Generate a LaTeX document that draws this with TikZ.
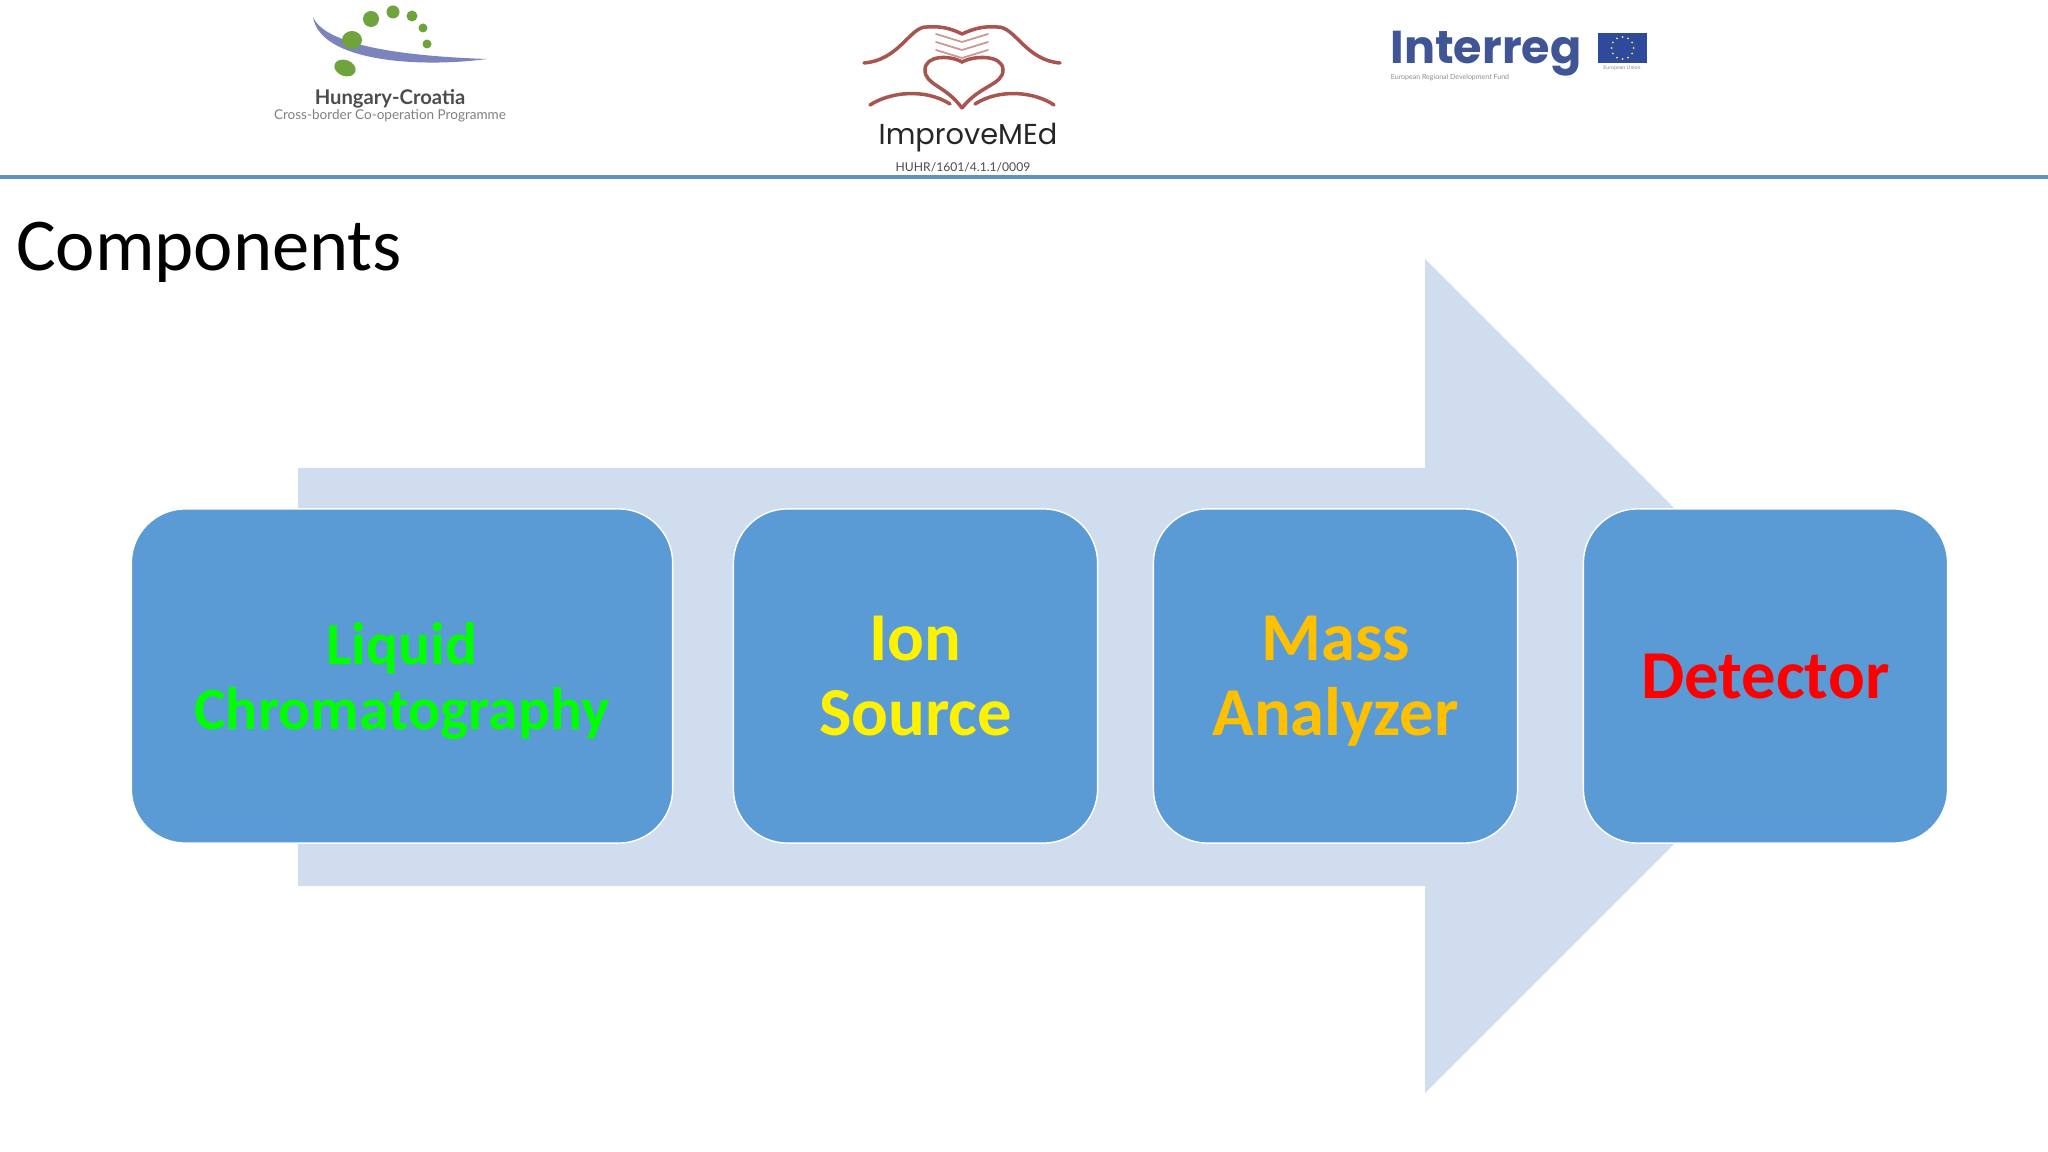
\documentclass[tikz,border=0pt]{standalone}
\usepackage{fontspec}
\setmainfont{Carlito}
\newfontfamily\logofont{Lato}
\newfontfamily\logoroundfont{Poppins}
\usepackage{tikz}
\definecolor{boxblue}{HTML}{5B9BD5}
\definecolor{arrowblue}{HTML}{D0DDEE}
\definecolor{headerline}{HTML}{5F92BF}
\definecolor{logogreen}{HTML}{6FA33C}
\definecolor{logoviolet}{HTML}{7C84BE}
\definecolor{logored}{HTML}{A8554F}
\definecolor{logonavy}{HTML}{3F5596}
\definecolor{flagblue}{HTML}{2F4A9C}
\definecolor{compamber}{HTML}{FFC000}
\tikzstyle{compbox}=[rectangle,draw=white,line width=0.4pt,fill=boxblue,rounded corners=0.54cm,minimum height=3.34cm,align=center,inner sep=0pt,text depth=0pt]
\tikzstyle{smalltext}=[font=\bfseries\fontsize{17}{18.6}\selectfont]
\tikzstyle{bigtext}=[font=\bfseries\fontsize{19.5}{21.2}\selectfont]
\tikzstyle{logotext}=[inner sep=0pt,text=black!70]
\tikzstyle{hand}=[draw=logored,line width=1pt,line cap=round]
\tikzstyle{dot}=[fill=logogreen]
\begin{document}
\begin{tikzpicture}[x=0.01cm,y=-0.01cm]
        \useasboundingbox (0,0) rectangle (2048,1152);
        \fill[arrowblue] (298,468) -- (1425,468) -- (1425,259) -- (1842,676) -- (1425,1093) -- (1425,886) -- (298,886) -- cycle;
        \draw[headerline,line width=1pt] (0,177) -- (2048,177);
        \node[inner sep=0pt,font=\fontsize{21.2}{24}\selectfont] (title) at (209,252) {Components};
        \node[compbox,smalltext,minimum width=5.41cm,text=green] (lc) at (402,676) {Liquid\\Chromatography};
        \node[compbox,bigtext,minimum width=3.64cm,text=yellow] (ion) at (915.5,676) {Ion\\Source};
        \node[compbox,bigtext,minimum width=3.64cm,text=compamber] (mass) at (1335.5,676) {Mass\\Analyzer};
        \node[compbox,bigtext,minimum width=3.64cm,text=red] (det) at (1765.5,676) {Detector};
        \fill[logoviolet] (313,17) .. controls (325,45) and (400,56) .. (487,59) .. controls (420,68) and (320,62) .. (313,17) -- cycle;
        \fill[dot,rotate around={-20:(345,68)}] (345,68) ellipse (11 and 8);
        \fill[dot] (352,40) ellipse (10 and 9);
        \fill[dot] (371,19) circle (8);
        \fill[dot] (393,12) circle (6.5);
        \fill[dot] (412,16) circle (5.5);
        \fill[dot] (423,28) circle (4.5);
        \fill[dot] (427,44) circle (4.5);
        \node[logotext,font=\logofont\bfseries\fontsize{5.75}{7}\selectfont] (hucro) at (390,99) {Hungary-Croatia};
        \node[logotext,text=black!50,font=\logofont\fontsize{3.85}{5}\selectfont] (cbc) at (390,116) {Cross-border Co-operation Programme};
        \draw[hand] (864,63) .. controls (900,60) and (910,26) .. (927,27) .. controls (940,26) and (950,28) .. (962,34);
        \draw[hand] (1060,63) .. controls (1025,60) and (1015,26) .. (997,27) .. controls (985,26) and (975,28) .. (962,34);
        \draw[hand] (962,108) .. controls (945,85) and (925,85) .. (925,70) .. controls (925,55) and (950,55) .. (962,62) .. controls (975,55) and (1003,55) .. (1003,70) .. controls (1003,85) and (980,85) .. (962,108);
        \draw[hand] (870,105) .. controls (890,92) and (925,88) .. (950,104);
        \draw[hand] (1054,105) .. controls (1035,92) and (1000,88) .. (975,104);
        \foreach \yy in {34,42,50} {
            \draw[hand,line width=0.5pt,draw=logored!60] (936,\yy) -- (962,\yy+8) -- (988,\yy);
        }
        \node[logotext,text=black!85,font=\logoroundfont\fontsize{8.2}{10}\selectfont] (improve) at (968,138) {ImproveMEd};
        \node[logotext,font=\logofont\fontsize{3.45}{5}\selectfont] (huhr) at (963,167) {HUHR/1601/4.1.1/0009};
        \node[inner sep=0pt,anchor=base,text depth=0pt,text=logonavy,font=\logoroundfont\bfseries\fontsize{13.1}{15}\selectfont] (interreg) at (1486,64) {Interreg};
        \node[logotext,text=black!45,font=\logofont\fontsize{2}{3}\selectfont] (erdf) at (1450,78) {European Regional Development Fund};
        \fill[flagblue] (1598,33) rectangle (1647,63);
        \foreach \ang in {0,30,...,330} {
            \fill[yellow!80!white] (1622.5,48)++(\ang:11) circle (1);
        }
        \node[logotext,text=black!45,font=\logofont\fontsize{1.5}{2}\selectfont] (eu) at (1622,68) {European Union};
\end{tikzpicture}
\end{document}
